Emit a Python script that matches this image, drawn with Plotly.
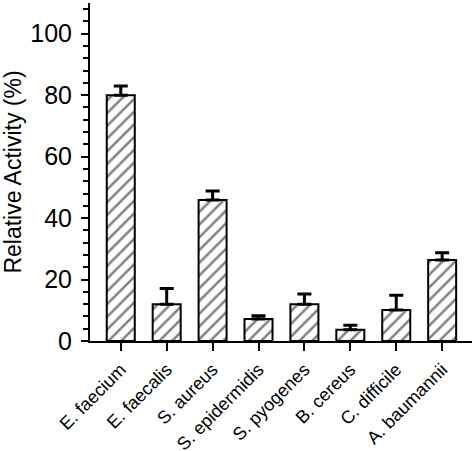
import plotly.graph_objects as go

species = ["E. faecium", "E. faecalis", "S. aureus", "S. epidermidis",
           "S. pyogenes", "B. cereus", "C. difficile", "A. baumannii"]
activity = [80.0, 12.0, 45.9, 7.2, 12.0, 3.7, 10.1, 26.4]
error_up = [3.0, 5.1, 2.9, 1.0, 3.3, 1.4, 4.8, 2.3]

fig = go.Figure()
# bars with diagonal hatch and one-sided error bars
fig.add_trace(go.Bar(
    x=list(range(len(species))),
    y=activity,
    width=0.61,
    marker=dict(color="white",
                line=dict(color="black", width=2),
                pattern=dict(shape="/", fgcolor="black", bgcolor="white",
                             size=9, solidity=0.28)),
    error_y=dict(type="data", symmetric=False, array=error_up,
                 arrayminus=[0] * len(species),
                 color="black", thickness=3, width=7),
))

fig.update_layout(
    width=474, height=451,
    margin=dict(l=90, r=2, t=3, b=110),
    plot_bgcolor="white", paper_bgcolor="white",
    showlegend=False,
    font=dict(family="Liberation Sans, Arial", color="black"),
)
fig.update_xaxes(
    range=[-0.67, 7.65], automargin=False,
    tickvals=list(range(len(species))), ticktext=species,
    tickangle=-45, tickfont=dict(size=18),
    ticklabelstandoff=1,
    showline=True, linecolor="black", linewidth=2,
    ticks="outside", ticklen=8, tickwidth=2, tickcolor="black",
    showgrid=False, zeroline=False,
)
fig.update_yaxes(
    range=[0, 110], automargin=False,
    tickvals=[0, 20, 40, 60, 80, 100],
    tickfont=dict(size=25), ticklabelstandoff=4,
    title=dict(text="Relative Activity (%)", font=dict(size=23), standoff=12),
    showline=True, linecolor="black", linewidth=2,
    ticks="outside", ticklen=7, tickwidth=2, tickcolor="black",
    minor=dict(dtick=4, ticks="outside", ticklen=5, tickwidth=2, tickcolor="black"),
    showgrid=False, zeroline=False,
)

# drop the default page margin so the figure sits at the window corner
fig.write_html("out.html", config={"displayModeBar": False},
               post_script="document.body.style.margin='0';")
